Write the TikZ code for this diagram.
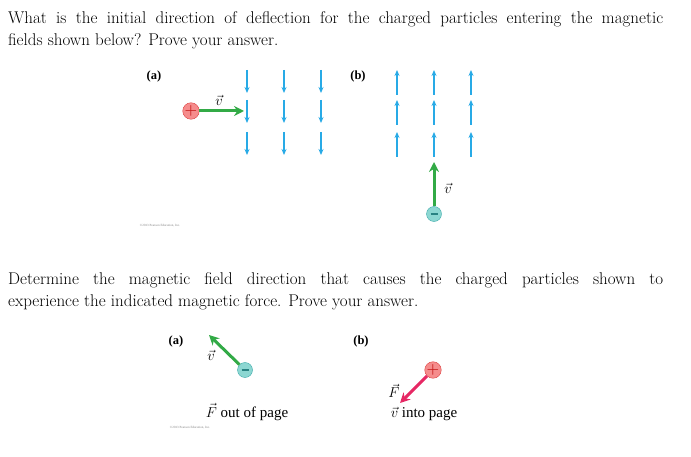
\documentclass[tikz,border=0pt]{standalone}
\usepackage{fontspec}
\setmainfont{Latin Modern Roman}
\newfontfamily\tnr{Liberation Serif}
\usetikzlibrary{arrows.meta}
\begin{document}
\begin{tikzpicture}[x=1pt,y=-1pt,
  fieldarrow/.style={draw={rgb,255:red,40;green,170;blue,230},line width=1.5pt,-{Stealth[length=6pt,width=5pt]}},
  varrow/.style={draw={rgb,255:red,50;green,170;blue,70},line width=3pt,-{Stealth[length=10pt,width=10pt]}},
  farrow/.style={draw={rgb,255:red,230;green,40;blue,100},line width=3pt,-{Stealth[length=10pt,width=10pt]}},
  poscharge/.style={circle,draw={rgb,255:red,220;green,60;blue,60},fill={rgb,255:red,245;green,140;blue,140},minimum size=15pt,inner sep=0pt,text={rgb,255:red,200;green,30;blue,30},font=\bfseries\Large},
  negcharge/.style={circle,draw={rgb,255:red,60;green,170;blue,170},fill={rgb,255:red,140;green,215;blue,210},minimum size=15pt,inner sep=0pt,text={rgb,255:red,40;green,130;blue,130},font=\bfseries\large},
  lab/.style={font=\tnr\bfseries\fontsize{12.5}{14}\selectfont},
  lbl/.style={font=\tnr\fontsize{15}{17}\selectfont},
  para/.style={anchor=north west,text width=655pt,align=justify,inner sep=0pt,font=\fontsize{17}{22}\selectfont},
  tiny/.style={font=\tnr\fontsize{3.2}{4}\selectfont,text=gray}]
\useasboundingbox (0,0) rectangle (691,457);
\node[para] (t1) at (8,11) {What is the initial direction of deflection for the charged particles entering the magnetic\linebreak fields shown below? Prove your answer.};
\node[para] (t2) at (8,272) {Determine the magnetic field direction that causes the charged particles shown to\linebreak experience the indicated magnetic force. Prove your answer.};
% (a) top
\node[lab] (la) at (154,76) {(a)};
\foreach \x in {247,284,321}{
  \foreach \ya/\yb in {70/93,100/123,132/155}{
    \coordinate (s) at (\x,\ya); \coordinate (e) at (\x,\yb);
    \draw[fieldarrow] (s) -- (e);}}
\node[poscharge] (p1) at (191,111) {+};
\coordinate (v1e) at (244,111);
\draw[varrow] (p1) -- (v1e);
\node[lbl] (v1) at (219,100) {$\vec v$};
% (b) top
\node[lab] (lb) at (358,76) {(b)};
\foreach \x in {397,434,471}{
  \foreach \ya/\yb in {95/70,125/100,157/132}{
    \coordinate (s) at (\x,\ya); \coordinate (e) at (\x,\yb);
    \draw[fieldarrow] (s) -- (e);}}
\node[negcharge] (n1) at (434,214) {\rule{7pt}{1.8pt}};
\coordinate (v2e) at (434,162);
\draw[varrow] (n1) -- (v2e);
\node[lbl] (v2) at (448,188) {$\vec v$};
\node[tiny] (c1) at (160,226) {\copyright 2013 Pearson Education, Inc.};
% bottom (a)
\node[lab] (la2) at (176,341) {(a)};
\node[negcharge] (n2) at (245,370) {\rule{7pt}{1.8pt}};
\coordinate (v3e) at (209,335);
\draw[varrow] (n2) -- (v3e);
\node[lbl] (v3) at (211,355) {$\vec v$};
\node[lbl] (fo) at (247,412) {$\vec F$ out of page};
\node[tiny] (c2) at (190,428) {\copyright 2013 Pearson Education, Inc.};
% bottom (b)
\node[lab] (lb2) at (361,341) {(b)};
\node[poscharge] (p2) at (433,370) {+};
\coordinate (f2e) at (400,403);
\draw[farrow] (p2) -- (f2e);
\node[lbl] (F2) at (394,391) {$\vec F$};
\node[lbl] (vi) at (424,414) {$\vec v$ into page};
\end{tikzpicture}
\end{document}
